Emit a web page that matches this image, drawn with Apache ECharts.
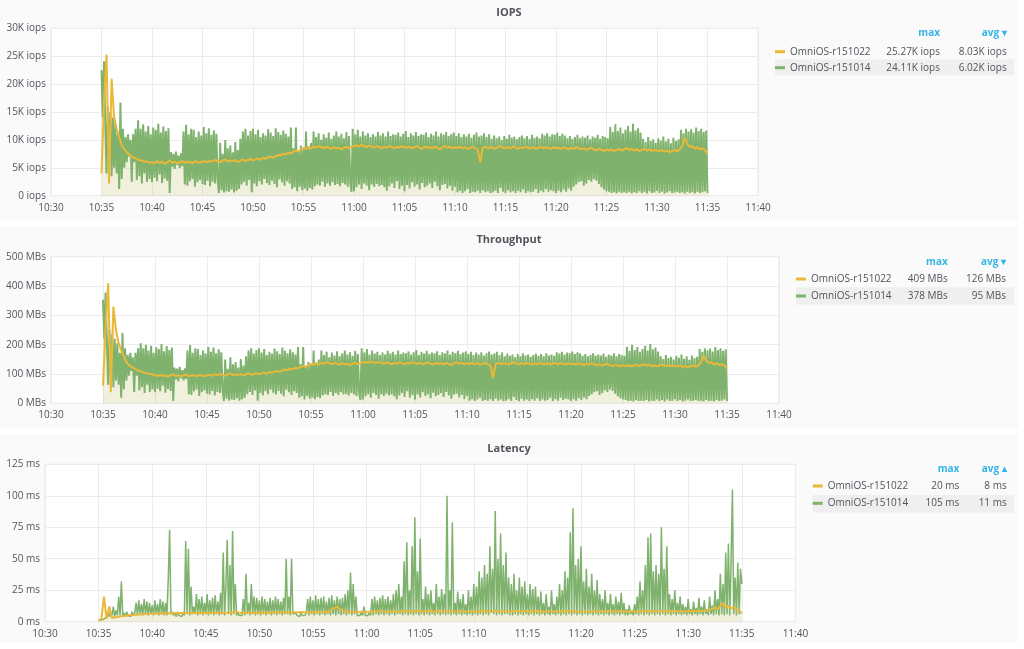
<!DOCTYPE html>
<html><head><meta charset="utf-8">
<script src="https://cdn.jsdelivr.net/npm/echarts@6/dist/echarts.min.js"></script>
<style>html,body{margin:0;padding:0;background:#fff}#c{width:1024px;height:649px}</style>
</head><body><div id="c"></div>
<script>
// ---------- data ----------
const seriesNames = ['OmniOS-r151022', 'OmniOS-r151014'];
const startMin = 5, endMin = 65;   // minutes after 10:30 (10:35 .. 11:35)
const timeLabels = ['10:30','10:35','10:40','10:45','10:50','10:55','11:00','11:05','11:10','11:15','11:20','11:25','11:30','11:35','11:40'];
const iopsTicks = ['0 iops','5K iops','10K iops','15K iops','20K iops','25K iops','30K iops'];
const mbTicks = ['0 MBs','100 MBs','200 MBs','300 MBs','400 MBs','500 MBs'];
const msTicks = ['0 ms','25 ms','50 ms','75 ms','100 ms','125 ms'];

const iopsMax = ['25.27K iops', '24.11K iops'];
const iopsAvg = ['8.03K iops', '6.02K iops'];
const mbMax = ['409 MBs', '378 MBs'];
const mbAvg = ['126 MBs', '95 MBs'];
const msMax = ['20 ms', '105 ms'];
const msAvg = ['8 ms', '11 ms'];

// IOPS (K iops) r151022, every 15 s
const iops22 = [4,17,25.3,2.2,21,14,12,10.5,9,8.3,7.8,7.4,7.0,6.8,6.6,6.4,6.3,6.1,6.2,5.9,
6.0,5.8,6.2,5.9,6.1,5.7,6.0,6.3,5.9,6.1,5.8,6.0,6.2,5.9,6.0,6.1,5.8,6.2,6.0,5.9,6.1,
6.2,6.0,6.3,6.1,6.4,6.2,6.0,6.3,6.5,6.1,6.3,6.2,6.4,6.0,6.3,6.5,6.2,6.4,6.6,6.3,
6.5,6.7,6.4,6.8,6.6,6.9,7.0,6.8,7.1,7.3,7.2,7.5,7.4,7.7,7.6,7.9,8.1,7.9,8.3,8.5,
8.4,8.7,8.5,8.8,8.6,8.9,8.7,8.5,8.8,8.6,8.4,8.7,8.5,8.6,8.3,8.6,8.8,8.5,8.7,8.9,
9.0,8.8,9.1,8.9,8.7,9.0,8.8,8.6,8.9,8.7,8.5,8.8,8.6,8.9,8.7,8.5,8.8,8.6,8.9,8.7,
8.6,8.8,8.5,8.7,8.9,8.6,8.4,8.8,8.6,8.7,8.5,8.8,8.6,8.3,8.7,8.9,8.6,8.8,8.5,8.7,
8.6,8.8,8.5,8.7,8.4,8.6,8.8,8.5,8.3,6.0,8.6,8.8,8.5,8.7,8.6,8.4,8.7,8.9,8.6,8.5,
8.7,8.5,8.8,8.6,8.4,8.7,8.5,8.8,8.6,8.5,8.7,8.4,8.6,8.8,8.5,8.7,8.6,8.4,8.7,8.5,
8.6,8.4,8.7,8.5,8.3,8.6,8.4,8.7,8.5,8.3,8.5,8.2,8.4,8.6,8.3,8.1,8.4,8.2,8.0,8.3,
8.1,8.3,8.0,8.2,8.4,8.1,8.3,8.5,8.2,8.4,8.1,8.3,8.0,8.2,8.4,8.1,8.3,8.0,8.2,8.1,
8.0,8.2,7.9,8.1,7.8,8.0,8.2,7.9,8.3,8.9,10.4,9.3,8.7,8.9,8.4,8.7,8.3,8.5,8.2,7.5];
// IOPS (K iops) r151014, every 7.5 s
const iops14 = [22.5,14,24.1,13,
4,16,6,15,3.5,14,5,13,4,
11,1.2,16.7,3,12,
5,10.5,6,11,7,10,2.5,11,6,12,
2.8,13.5,3.5,12,2.2,12.8,4,11.5,2.5,12.5,3,11,2.4,12.2,3.2,11.8,2.6,12.9,3.8,11.3,2.3,12.4,3.1,11.6,2.7,12.1,
0.5,7.8,5.2,7.5,4.8,7.9,5.5,7.2,5,7.6,5.3,
11.5,2,12.7,1.8,11,2.6,12,3,11.8,1.6,10.5,2.4,11.5,2.8,10.8,2.1,12.3,1.9,11.2,2.7,12.1,1.7,10.9,2.5,11.7,2.2,11.1,2.9,
0.5,9.5,1,7.5,0.6,10,0.8,8.5,0.7,9,1.1,7.8,0.6,9.6,0.9,8.2,1.2,10.2,2,
11.5,2.5,12,1.8,10.8,2.8,11.6,0.6,12,2.2,11,1.7,11.8,2.6,10.5,2,11.2,3,10.8,2.3,11.9,1.9,11.3,2.7,10.7,2.1,12.1,1.5,11.4,2.9,10.9,2.4,11.7,1.8,11.1,2.6,10.6,2.2,
12.2,1.2,8.5,1.5,12.2,0.8,8,1.6,9,1,8.4,1.3,11.5,0.9,8.8,1.4,9.5,1.1,11.5,1.7,
10.5,2,11.2,1.8,10,2.5,11,1.6,10.4,2.2,11.3,1.8,10.2,2.4,10.8,1.9,11.5,2.1,10.6,1.7,11.1,2.3,10.3,2,11.4,1.6,10.7,2.5,
0.7,12,0.8,
11,1.5,11.8,2,10.6,1.2,11.5,2.2,10.8,1.8,11.2,1,10.5,2,11,1.6,10.6,2.1,11.4,1.7,
10.8,1.9,11.2,1.5,10.6,0.9,11.5,1.7,10.7,2.2,11,1.4,10.9,2.6,11.3,1.2,10.6,1.8,11.1,0.8,
11.6,1.9,10.5,1.3,11.2,2.4,10.8,1.6,11.4,2,10.7,1.1,11,2.3,10.9,1.5,11.3,1.8,10.5,2.2,
11.1,1.4,10.8,2.5,11.5,1.7,10.6,1,11.2,1.9,10.9,2.1,11.4,1.3,10.7,1.8,11,0.9,11.3,1.6,
10.7,0.6,11.2,0.9,10.5,0.5,11,0.8,10.6,1.2,11.1,0.5,10.4,0.7,10.9,0.6,11.3,0.9,10.6,0.5,10.8,1,11.2,0.6,10.5,0.8,11,0.5,
10.2,0.6,10.8,0.9,10.3,0.5,10.6,1.4,10,0.7,10.7,0.5,10.2,1,10.9,0.6,10.4,0.8,10.6,0.5,
10.1,0.9,10.5,0.6,10.8,1.1,10.3,0.5,10.7,0.8,10.2,0.6,10.9,0.7,10.4,1.2,10.6,0.5,10.3,0.9,
11.1,0.6,10.8,1.2,11.2,0.7,10.6,1,11,0.8,10.9,0.5,11.3,0.9,10.7,0.6,11.1,1.1,10.8,0.7,
10.3,1.3,10.7,0.9,10.2,1.6,10.5,2,10.9,2.4,10.3,2.6,10.6,1.8,10.4,2.2,10.8,2.8,10.1,2.5,10.6,3,10.4,2.7,10.9,2.1,10.2,1.5,10.7,1.1,10.5,0.8,10.3,0.7,
12.3,0.5,11.4,0.6,12.8,0.4,11.6,0.7,12.2,0.5,11.2,0.6,11.8,0.5,12.5,0.7,11.5,0.4,12.9,0.6,11.7,0.5,12.1,0.8,11.3,0.5,
10.2,0.7,9.6,0.4,10.5,0.8,9.8,0.5,10.1,0.6,9.5,0.9,10.3,0.5,9.9,0.7,10.6,0.4,9.7,0.6,10.2,0.8,9.4,0.5,10.4,0.6,9.8,0.7,10.1,
0.5,11.8,0.6,11.2,0.4,12,0.7,11.5,0.5,11.9,0.6,11.3,0.4,12.2,0.7,11.6,0.5,12,0.6,11.4,0.8,11.7,0.5];

// Throughput (MBs) r151022, every 15 s
const mb22 = [60,260,409,38,330,250,205,180,160,140,130,124,119,114,110,107,104,102,101,98,
96,93,97,94,95,91,96,99,93,95,92,96,98,93,95,96,92,97,94,93,96,
97,94,99,96,100,97,94,99,102,96,99,97,100,94,99,102,97,100,103,99,
102,105,100,107,104,108,110,107,112,115,113,118,116,121,119,124,127,124,130,133,
132,137,133,138,135,140,137,133,138,135,132,137,133,135,130,135,138,133,137,140,
141,138,143,140,137,141,138,135,140,137,133,138,135,140,137,133,138,135,140,137,
135,138,133,137,140,135,132,138,135,137,133,138,135,130,137,140,135,138,133,137,
135,138,133,137,132,135,138,133,130,85,135,138,133,137,135,132,137,140,135,133,
137,133,138,135,132,137,133,138,135,133,137,132,135,138,133,137,135,132,137,133,
135,132,137,133,130,135,132,137,133,130,133,129,132,135,130,127,132,129,126,130,
127,130,126,129,132,127,130,133,129,132,127,130,126,129,132,127,130,126,129,127,
126,129,124,127,122,126,129,124,130,140,163,146,137,140,132,137,130,133,129,118];
// Throughput (MBs) r151014, every 7.5 s
const mb14 = [353,220,378,205,
63,250,94,235,55,220,78,204,63,
172,19,240,47,188,
78,165,94,172,110,157,39,172,94,188,
44,205,55,188,35,200,63,180,39,196,47,172,38,191,50,185,41,202,60,177,36,195,49,182,42,190,
8,122,82,118,75,124,86,113,78,119,83,
180,31,199,28,172,41,188,47,185,25,165,38,180,44,170,33,193,30,176,42,190,27,171,39,184,35,174,46,
8,149,16,118,9,157,13,133,11,141,17,122,9,151,14,129,19,160,31,
180,39,188,28,170,44,182,9,188,35,173,27,185,41,165,31,176,47,170,36,187,30,177,42,168,33,190,24,179,46,171,38,184,28,174,41,166,35,
192,19,133,24,192,13,126,25,141,16,132,20,180,14,138,22,149,17,180,27,
165,31,176,28,157,39,173,25,163,35,177,28,160,38,170,30,180,33,166,27,174,36,162,31,179,25,168,39,
11,188,13,
173,24,185,31,166,19,180,35,170,28,176,16,165,31,173,25,166,33,179,27,
170,30,176,24,166,14,180,27,168,35,173,22,171,41,177,19,166,28,174,13,
182,30,165,20,176,38,170,25,179,31,168,17,173,36,171,24,177,28,165,35,
174,22,170,39,180,27,166,16,176,30,171,33,179,20,168,28,173,14,177,25,
168,9,176,14,165,8,173,13,166,19,174,8,163,11,171,9,177,14,166,8,170,16,176,9,165,13,173,8,
160,9,170,14,162,8,166,22,157,11,168,8,160,16,171,9,163,13,166,8,
159,14,165,9,170,17,162,8,168,13,160,9,171,11,163,19,166,8,162,14,
174,9,170,19,176,11,166,16,173,13,171,8,177,14,168,9,174,17,170,11,
162,20,168,14,160,25,165,31,171,38,162,41,166,28,163,35,170,44,159,39,166,47,163,42,171,33,160,24,168,17,165,13,162,11,
193,8,179,9,200,6,182,11,192,8,176,9,185,8,196,11,180,6,202,9,184,8,190,13,177,8,
160,11,151,6,165,13,154,8,159,9,149,14,162,8,155,11,166,6,152,9,160,13,148,8,163,9,154,11,159,
8,185,9,176,6,188,11,181,8,187,9,177,6,192,11,182,8,188,9,179,13,184,8];

// Latency (ms) r151022, every 15 s
const ms22 = [1,2,20,2.5,12,3,3.5,3.8,4.2,4.5,4.8,5,5.3,5.5,5.6,5.8,6,6.1,6.2,6.3,6.5,
6.6,6.4,6.7,6.5,6.8,6.6,6.9,6.7,7.0,6.8,7.1,6.9,7.2,7.0,6.8,7.1,6.9,7.0,7.2,6.9,
7.1,6.9,7.2,7.0,7.3,7.1,6.9,7.2,7.0,7.3,8.5,7.4,7.0,7.2,7.3,7.1,6.9,7.2,7.0,7.3,
7.2,7.4,7.1,7.3,7.5,7.2,7.4,7.6,7.3,7.5,7.2,7.4,7.6,7.3,7.5,7.7,7.4,7.6,7.3,7.5,
7.6,7.8,7.5,7.7,8.0,7.6,9.5,11,12,10,8.8,8.1,7.7,7.9,8.0,7.8,7.6,7.9,8.1,7.8,
8.0,7.4,8.6,7.8,9.0,8.2,7.6,8.4,7.9,8.8,8.0,7.5,8.6,8.1,8.9,7.7,8.3,7.9,8.7,8.2,
7.8,8.5,8.0,8.9,7.6,8.3,8.7,7.9,8.4,8.1,7.7,8.6,8.2,7.8,8.8,8.0,8.4,7.6,8.5,8.1,
8.3,7.8,8.7,8.0,8.5,7.7,8.4,8.9,8.1,7.9,8.6,8.2,7.6,8.4,8.0,8.8,7.8,8.3,8.6,8.0,
7.9,8.5,8.1,8.7,7.7,8.3,8.0,8.6,7.8,8.4,8.2,7.6,8.5,8.0,8.8,7.9,8.3,8.1,7.7,8.4,
8.2,7.8,8.6,8.0,8.4,7.7,8.5,8.1,7.9,8.7,8.0,8.3,7.8,8.6,8.1,8.4,7.9,8.2,8.5,8.0,
8.3,7.9,8.6,8.1,8.4,7.8,8.5,8.2,8.0,8.7,7.9,8.3,8.1,8.6,8.0,8.4,7.8,8.5,8.2,8.6,
8.1,8.7,8.3,8.9,8.4,9.0,8.6,9.5,10.2,11.5,9.8,12.5,15,11.2,12.8,10.5,11.8,9.6,9.0,6.5];
// Latency (ms) r151014, every 7.5 s
const ms14 = [1,2,1.5,3,2,3,
4,7,4,8,5,12,4,9,5,20,5,32,
5,7,4,8,5,6,4,8,5,7,
15,5,17,6,14,5,18,6,16,5,15,6,13,5,17,6,14,5,18,6,16,5,
15,5,35,73,6,8,
5,7,4,8,5,6,4,7,
5,64,6,58,5,28,6,12,
6,22,5,18,6,20,5,15,6,22,5,17,6,19,5,21,6,16,5,23,
6,55,5,28,65,6,45,5,72,6,30,5,
7,5,6,5,
18,5,38,6,15,5,30,6,20,5,
19,6,17,5,20,6,18,5,16,6,19,5,17,6,20,5,18,6,16,5,19,6,
50,6,20,5,50,6,
5,7,5,6,4,7,5,6,5,7,
18,5,20,6,17,5,21,6,18,5,19,6,20,5,16,6,19,5,21,6,17,5,20,6,18,5,19,6,22,5,
25,6,39,5,30,6,20,5,
6,5,7,5,12,5,6,5,7,5,
18,5,20,6,17,5,19,6,21,5,18,6,20,5,17,6,22,5,25,6,
30,6,20,5,48,6,63,5,25,6,60,5,83,6,40,5,66,6,
18,5,28,6,22,5,25,6,15,5,30,6,20,5,26,6,22,5,
100,6,25,5,79,6,
15,5,24,6,18,5,22,6,14,5,25,6,20,5,
30,6,28,5,40,6,35,5,45,6,38,5,60,7,42,6,88,5,50,6,70,5,45,6,
55,6,35,5,
30,5,38,6,25,5,35,6,28,5,32,6,22,5,30,6,26,5,28,6,20,5,24,6,
15,5,22,6,12,5,25,6,14,5,20,6,
30,5,25,6,40,5,35,6,71,5,90,6,45,5,50,6,
60,5,32,6,42,5,28,6,38,5,25,6,33,5,22,6,
18,5,25,6,15,5,22,6,14,5,20,6,16,5,23,6,15,5,
10,5,13,6,9,5,14,6,
20,5,32,6,25,5,45,6,67,5,70,6,40,5,
45,6,38,5,75,6,42,5,60,6,
22,5,18,6,25,5,15,6,20,5,14,6,
12,5,18,6,10,5,16,6,11,5,19,6,12,5,17,6,10,5,20,6,13,5,
25,6,18,5,38,6,30,5,55,6,62,5,48,
105,6,
35,5,47,6,42,30];

// ---------- chart ----------
const FONT = 'Open Sans';
const TXT = '#52545c';
const GREEN = '#7EB26D', YELLOW = '#EAB839';
const toPairs = arr => arr.map((v, i) => [startMin + i * (endMin - startMin) / (arr.length - 1), v]);

const panels = [
  {title:'IOPS', tx:509, ty:13, grid:{left:51, top:28.3, width:707, height:167.4}, max:30, interval:5, ticks:iopsTicks,
   d22:iops22, d14:iops14, maxV:iopsMax, avgV:iopsAvg, sort:'avg \u25BE', gw:2,
   lg:{left:775, row1:51.7, pitch:16, n:95, m:55, a:66.7}, hdr:{y:33.3, mx:940, ax:1006.7},
   rowBg:{x:775, y:59.3, w:239, h:16}, bg:{y:0, h:220}},
  {title:'Throughput', tx:509, ty:240, grid:{left:51, top:256.7, width:728, height:146.6}, max:500, interval:100, ticks:mbTicks,
   d22:mb22, d14:mb14, maxV:mbMax, avgV:mbAvg, sort:'avg \u25BE', gw:2,
   lg:{left:796, row1:279, pitch:17, n:95, m:41.7, a:58.3}, hdr:{y:261.7, mx:947.7, ax:1006},
   rowBg:{x:796, y:287.3, w:218, h:17.4}, bg:{y:227, h:201}},
  {title:'Latency', tx:509, ty:449, grid:{left:45, top:464.3, width:750.4, height:157.4}, max:125, interval:25, ticks:msTicks,
   d22:ms22, d14:ms14, maxV:msMax, avgV:msAvg, sort:'avg \u25B4', gw:1.5,
   lg:{left:812.7, row1:486, pitch:17.3, n:95, m:36.6, a:47.4}, hdr:{y:469.3, mx:959.3, ax:1006.7},
   rowBg:{x:812.7, y:495, w:201.3, h:17.7}, bg:{y:435, h:208}}
];

const grids = [], xAxes = [], yAxes = [], series = [], legends = [], graphics = [];
panels.forEach((p, gi) => {
  grids.push(Object.assign({show:true, backgroundColor:'#fff', borderColor:'#e6e6e6', borderWidth:1, containLabel:false}, p.grid));
  xAxes.push({type:'value', gridIndex:gi, min:0, max:70, interval:5,
    axisLine:{show:false}, axisTick:{show:false},
    splitLine:{show:true, lineStyle:{color:'#ececec', width:1}},
    axisLabel:{margin:7, color:TXT, fontFamily:FONT, fontSize:10, formatter:v => timeLabels[Math.round(v/5)]}});
  yAxes.push({type:'value', gridIndex:gi, min:0, max:p.max, interval:p.interval,
    axisLine:{show:false}, axisTick:{show:false},
    splitLine:{show:true, lineStyle:{color:'#ececec', width:1}},
    axisLabel:{margin:5, color:TXT, fontFamily:FONT, fontSize:10, formatter:v => p.ticks[Math.round(v/p.interval)]}});
  series.push({type:'line', name:seriesNames[1], xAxisIndex:gi, yAxisIndex:gi, data:toPairs(p.d14),
    symbol:'none', showSymbol:false, color:GREEN, lineStyle:{width:p.gw, color:GREEN, join:'bevel'}, itemStyle:{color:GREEN},
    areaStyle:{color:GREEN, opacity:0.1}, silent:true});
  series.push({type:'line', name:seriesNames[0], xAxisIndex:gi, yAxisIndex:gi, data:toPairs(p.d22),
    symbol:'none', showSymbol:false, color:YELLOW, lineStyle:{width:2, color:YELLOW}, itemStyle:{color:YELLOW},
    areaStyle:{color:YELLOW, opacity:0.1}, silent:true});
  const L = p.lg;
  legends.push({data:seriesNames.slice(), orient:'vertical', left:L.left, top:L.row1 - L.pitch/2,
    icon:'rect', itemWidth:10, itemHeight:3, itemGap:0, padding:0, selectedMode:false,
    textStyle:{fontFamily:FONT, fontSize:10, color:TXT, lineHeight:L.pitch,
      rich:{n:{width:L.n, fontFamily:FONT, fontSize:10, color:TXT, lineHeight:L.pitch},
            m:{width:L.m, align:'right', fontFamily:FONT, fontSize:10, color:TXT, lineHeight:L.pitch},
            a:{width:L.a, align:'right', fontFamily:FONT, fontSize:10, color:TXT, lineHeight:L.pitch}}},
    formatter: name => { const k = seriesNames.indexOf(name); return '{n|' + name + '}{m|' + p.maxV[k] + '}{a|' + p.avgV[k] + '}'; }});
  graphics.push({type:'rect', z:-20, silent:true, shape:{x:0, y:p.bg.y, width:1018, height:p.bg.h}, style:{fill:'#fafafa'}});
  graphics.push({type:'rect', z:-10, silent:true, shape:{x:p.rowBg.x, y:p.rowBg.y, width:p.rowBg.w, height:p.rowBg.h}, style:{fill:'#efefef'}});
  graphics.push({type:'text', z:5, silent:true, style:{text:p.title, x:p.tx, y:p.ty, fill:TXT, font:'bold 11px "Open Sans"', textAlign:'center', align:'center', textVerticalAlign:'middle', verticalAlign:'middle'}});
  graphics.push({type:'text', z:5, silent:true, style:{text:'max', x:p.hdr.mx, y:p.hdr.y, fill:'#33b5e5', font:'bold 10px "Open Sans"', textAlign:'right', align:'right', textVerticalAlign:'middle', verticalAlign:'middle'}});
  graphics.push({type:'text', z:5, silent:true, style:{text:p.sort, x:p.hdr.ax, y:p.hdr.y, fill:'#33b5e5', font:'bold 10px "Open Sans"', textAlign:'right', align:'right', textVerticalAlign:'middle', verticalAlign:'middle'}});
});

const chart = echarts.init(document.getElementById('c'), null, {renderer:'canvas'});
chart.setOption({
  animation:false,
  backgroundColor:'#fff',
  textStyle:{fontFamily:FONT},
  grid:grids, xAxis:xAxes, yAxis:yAxes, series:series, legend:legends,
  graphic:{elements:graphics}
});
</script></body></html>
